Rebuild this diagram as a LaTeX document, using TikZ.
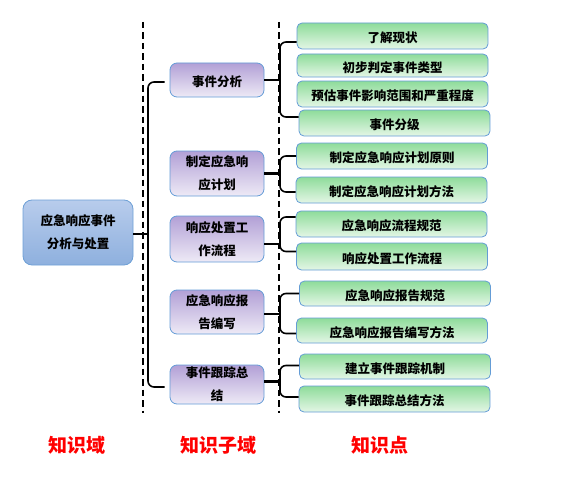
\documentclass[tikz,border=0pt]{standalone}
\usepackage{fontspec}
\newfontfamily\cjk{Noto Sans CJK SC}
\begin{document}
\begin{tikzpicture}[x=1pt,y=-1pt,
  every node/.style={font=\cjk\bfseries\fontsize{12.5}{23}\selectfont, align=center, inner sep=0pt},
  rootbox/.style={draw={rgb,255:red,110;green,160;blue,214}, line width=0.8pt, rounded corners=9pt,
     top color={rgb,255:red,184;green,204;blue,236}, bottom color={rgb,255:red,142;green,176;blue,222},
     minimum width=110pt, minimum height=65pt},
  midbox/.style={draw={rgb,255:red,100;green,156;blue,214}, line width=0.8pt, rounded corners=7pt,
     top color={rgb,255:red,178;green,160;blue,214}, bottom color={rgb,255:red,238;green,234;blue,246},
     minimum width=94pt},
  leafbox/.style={draw={rgb,255:red,100;green,156;blue,214}, line width=0.8pt, rounded corners=5pt,
     top color={rgb,255:red,142;green,220;blue,154}, bottom color={rgb,255:red,228;green,246;blue,230},
     minimum width=191pt, text height=13pt, text depth=0pt},
  divider/.style={line width=1.6pt, dash pattern=on 6.5pt off 4pt},
  brace/.style={line width=1.6pt, rounded corners=6pt},
  nub/.style={line width=2.6pt},
  domlabel/.style={font=\cjk\bfseries\fontsize{19}{22}\selectfont, text=red}
]
\useasboundingbox (0,0) rectangle (562,495);

% dashed dividers
\coordinate (d1t) at (143,22); \coordinate (d1b) at (143,413);
\coordinate (d2t) at (279,22); \coordinate (d2b) at (279,413);
\draw[divider] (d1t) -- (d1b);
\draw[divider] (d2t) -- (d2b);

% root
\node[rootbox] (root) at (78,232.5) {应急响应事件\\分析与处置};

% mid boxes
\node[midbox, minimum height=34pt, text height=13pt, text depth=0pt] (m1) at (217,80) {事件分析};
\node[midbox, minimum height=45pt] (m2) at (217,173.5) {制定应急响\\应计划};
\node[midbox, minimum height=46pt] (m3) at (217,239) {响应处置工\\作流程};
\node[midbox, minimum height=44pt] (m4) at (217,312) {应急响应报\\告编写};
\node[midbox, minimum height=39pt] (m5) at (217,384.5) {事件跟踪总\\结};

% leaves
\node[leafbox, minimum height=26pt] (l1) at (392.5,36) {了解现状};
\node[leafbox, minimum height=23pt] (l2) at (392.5,65.5) {初步判定事件类型};
\node[leafbox, minimum height=26pt] (l3) at (392.5,94) {预估事件影响范围和严重程度};
\node[leafbox, minimum height=26pt] (l4) at (394.5,123) {事件分级};
\node[leafbox, minimum height=26pt] (l5) at (392,156) {制定应急响应计划原则};
\node[leafbox, minimum height=26pt] (l6) at (391.5,190) {制定应急响应计划方法};
\node[leafbox, minimum height=26pt] (l7) at (391.5,224) {应急响应流程规范};
\node[leafbox, minimum height=27pt] (l8) at (392,256.5) {响应处置工作流程};
\node[leafbox, minimum height=25pt] (l9) at (395,293.5) {应急响应报告规范};
\node[leafbox, minimum height=25pt] (l10) at (392,330.5) {应急响应报告编写方法};
\node[leafbox, minimum height=25pt] (l11) at (395,366.5) {建立事件跟踪机制};
\node[leafbox, minimum height=26pt] (l12) at (394.5,399) {事件跟踪总结方法};

% root brace
\coordinate (sp) at (148,233.5);
\coordinate (r1) at ([xshift=-5pt,yshift=-2pt]m1.west);
\coordinate (r5) at ([xshift=-5pt,yshift=-2.5pt]m5.west);
\draw[line width=2pt] (root.east |- sp) -- (sp);
\draw[brace] (r1) -- (sp |- r1) -- (sp |- r5) -- (r5);

% leaf braces
\coordinate (bx) at (280,0);
\coordinate (e1) at (m1.east);
\coordinate (e2) at (m2.east);
\coordinate (e3) at ([yshift=-5pt]m3.east);
\coordinate (e4) at ([yshift=-2pt]m4.east);
\coordinate (e5) at ([yshift=3pt]m5.east);
\coordinate (a1) at ([yshift=-6pt]l1.west);
\coordinate (b1) at ([yshift=6pt]l4.west);
\coordinate (a2) at (l5.west);
\coordinate (b2) at ([yshift=-2pt]l6.west);
\coordinate (a3) at ([yshift=7pt]l7.west);
\coordinate (b3) at ([yshift=5pt]l8.west);
\coordinate (a4) at (l9.west);
\coordinate (b4) at ([yshift=-3pt]l10.west);
\coordinate (a5) at ([yshift=1pt]l11.west);
\coordinate (b5) at ([yshift=2pt]l12.west);
\foreach \i in {1,...,5}{
  \draw[nub] (e\i) -- (bx |- e\i);
  \draw[brace] (a\i) -- (bx |- a\i) -- (bx |- b\i) -- (b\i);
}

% domain labels
\node[domlabel] (t1) at (77,445) {知识域};
\node[domlabel] (t2) at (218,445) {知识子域};
\node[domlabel] (t3) at (380,445) {知识点};
\end{tikzpicture}
\end{document}
